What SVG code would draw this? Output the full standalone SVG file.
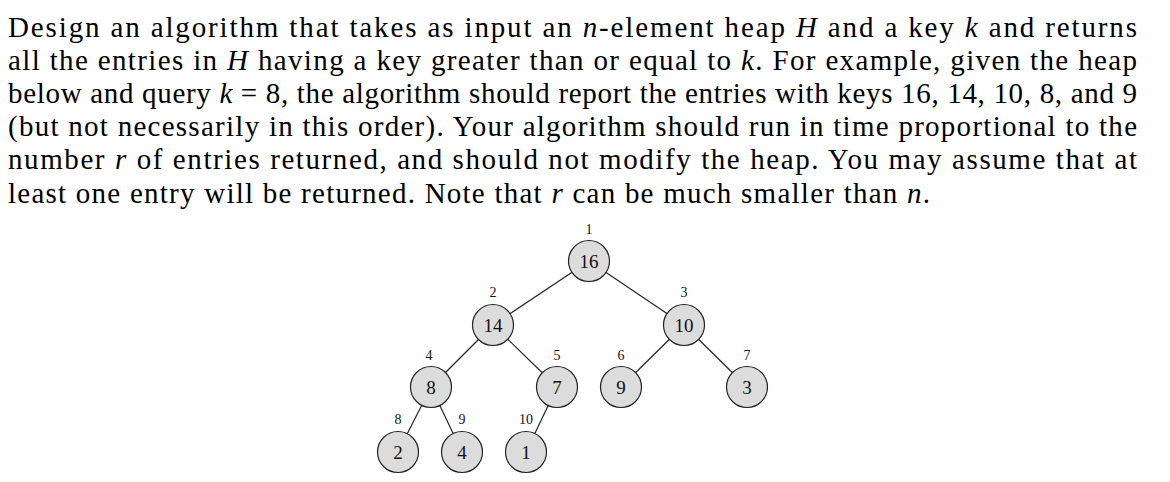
<svg xmlns="http://www.w3.org/2000/svg" width="1170" height="482" viewBox="0 0 1170 482">
<style>
.p{font-family:"Liberation Serif",serif;font-size:29px;fill:#000}
.i{font-style:italic}
.n circle{fill:#dcdcdc;stroke:#222;stroke-width:1.2}
.n text{font-family:"Liberation Serif",serif;font-size:19px;text-anchor:middle;fill:#111}
.lb{font-family:"Liberation Serif",serif;font-size:14px;text-anchor:middle;fill:#111}
#edges line{stroke:#222;stroke-width:1.2}
</style>
<rect width="1170" height="482" fill="#fff"/>
<g id="text">
<text class="p" x="8" y="37" textLength="1129" lengthAdjust="spacing">Design an algorithm that takes as input an <tspan class="i">n</tspan>-element heap <tspan class="i">H</tspan> and a key <tspan class="i">k</tspan> and returns</text>
<text class="p" x="8" y="70" textLength="1129" lengthAdjust="spacing">all the entries in <tspan class="i">H</tspan> having a key greater than or equal to <tspan class="i">k</tspan>. For example, given the heap</text>
<text class="p" x="8" y="103" textLength="1129" lengthAdjust="spacing">below and query <tspan class="i">k</tspan> = 8, the algorithm should report the entries with keys 16, 14, 10, 8,  and 9</text>
<text class="p" x="8" y="136" textLength="1129" lengthAdjust="spacing">(but not necessarily in this order). Your algorithm should run in time proportional to the</text>
<text class="p" x="8" y="169" textLength="1129" lengthAdjust="spacing">number <tspan class="i">r</tspan> of entries returned, and should not modify the heap. You may assume that at</text>
<text class="p" x="8" y="203" textLength="922" lengthAdjust="spacing">least one entry will be returned. Note that <tspan class="i">r</tspan> can be much smaller than <tspan class="i">n</tspan>.</text>
</g>
<g id="edges">
<line x1="589" y1="261" x2="493" y2="325"/>
<line x1="589" y1="261" x2="684" y2="325"/>
<line x1="493" y1="325" x2="431" y2="387"/>
<line x1="493" y1="325" x2="557" y2="387"/>
<line x1="684" y1="325" x2="621" y2="387"/>
<line x1="684" y1="325" x2="747" y2="387"/>
<line x1="431" y1="387" x2="398" y2="452"/>
<line x1="431" y1="387" x2="462" y2="452"/>
<line x1="557" y1="387" x2="526" y2="452"/>
</g>
<g id="n1" class="n"><circle cx="589" cy="261" r="20.5"/><text x="589" y="268">16</text></g>
<g id="n2" class="n"><circle cx="493" cy="325" r="20.5"/><text x="493" y="332">14</text></g>
<g id="n3" class="n"><circle cx="684" cy="325" r="20.5"/><text x="684" y="332">10</text></g>
<g id="n4" class="n"><circle cx="431" cy="387" r="20.5"/><text x="431" y="394">8</text></g>
<g id="n5" class="n"><circle cx="557" cy="387" r="20.5"/><text x="557" y="394">7</text></g>
<g id="n6" class="n"><circle cx="621" cy="387" r="20.5"/><text x="621" y="394">9</text></g>
<g id="n7" class="n"><circle cx="747" cy="387" r="20.5"/><text x="747" y="394">3</text></g>
<g id="n8" class="n"><circle cx="398" cy="452" r="20.5"/><text x="398" y="459">2</text></g>
<g id="n9" class="n"><circle cx="462" cy="452" r="20.5"/><text x="462" y="459">4</text></g>
<g id="n10" class="n"><circle cx="526" cy="452" r="20.5"/><text x="526" y="459">1</text></g>
<g id="labels">
<text class="lb" x="589" y="234">1</text>
<text class="lb" x="493" y="297">2</text>
<text class="lb" x="684" y="297">3</text>
<text class="lb" x="429" y="360">4</text>
<text class="lb" x="557" y="360">5</text>
<text class="lb" x="621" y="360">6</text>
<text class="lb" x="747" y="360">7</text>
<text class="lb" x="398" y="424">8</text>
<text class="lb" x="462" y="424">9</text>
<text class="lb" x="526" y="424">10</text>
</g>
</svg>
